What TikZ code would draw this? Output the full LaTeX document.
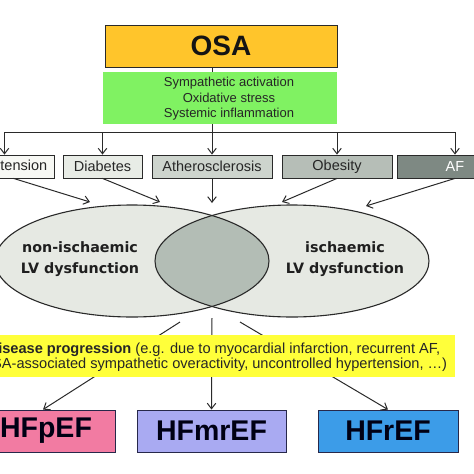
\documentclass[tikz,border=0pt]{standalone}
\usepackage{fontspec}
\setmainfont{Liberation Sans}
\newfontfamily\dejavu{DejaVu Sans}
\usetikzlibrary{arrows.meta}

\definecolor{osaorange}{HTML}{FFC52B}
\definecolor{mechgreen}{HTML}{80F262}
\definecolor{rowA}{HTML}{F7F8F4}
\definecolor{rowB}{HTML}{E8ECE6}
\definecolor{rowC}{HTML}{CDD4CD}
\definecolor{rowD}{HTML}{B6BEB7}
\definecolor{rowE}{HTML}{7E8983}
\definecolor{ellLight}{HTML}{E6E9E3}
\definecolor{ellDark}{HTML}{B3BDB5}
\definecolor{progYellow}{HTML}{FFFF3A}
\definecolor{hfpink}{HTML}{F27BA2}
\definecolor{hflav}{HTML}{A9AAF2}
\definecolor{hfblue}{HTML}{3C9CE8}
\definecolor{linecol}{HTML}{2A2A2A}
\definecolor{hfborder}{HTML}{27284A}

\begin{document}
\begin{tikzpicture}[x=1pt,y=-1pt,
  >={Straight Barb[length=5.5pt,width=8.5pt]},
  conn/.style={draw=linecol, line width=1pt},
  rowbox/.style={draw=linecol, line width=0.8pt, inner sep=0pt, minimum height=23pt,
                 font=\fontsize{14.5}{17}\selectfont, text=black!85},
  hfbox/.style={draw=hfborder, line width=0.9pt, inner sep=0pt, minimum height=42pt,
                font=\fontsize{28.5}{30}\selectfont\bfseries, text=black!92!blue},
  elltext/.style={align=center, inner sep=0pt, font=\dejavu\bfseries\fontsize{14.3}{21.5}\selectfont, text=black!88},
  ellline/.style={draw=linecol, line width=1.1pt},
]
\useasboundingbox (0,0) rectangle (474,474);
\begin{scope}
\clip (0,0) rectangle (474,474);

% OSA and mechanisms
\node[draw=linecol, line width=1pt, fill=osaorange, inner sep=0pt,
      minimum width=232pt, minimum height=42pt,
      font=\fontsize{28}{30}\selectfont\bfseries, text=black!92] (osa) at (221,46) {OSA};
\node[fill=mechgreen, inner sep=0pt, minimum width=234pt, minimum height=52pt] (mech) at (220,98) {};
\node[align=center, inner sep=0pt, font=\fontsize{13}{15.5}\selectfont, text=black!85] (mechtext) at (229,99)
  {Sympathetic activation\\Oxidative stress\\Systemic inflammation};

\coordinate (spine) at (212,132);

% comorbidity row
\node[rowbox, fill=rowA, minimum width=99pt]  (hyp) at (4.5,166.5) {Hypertension};
\node[rowbox, fill=rowB, minimum width=79pt]  (dia) at (102.5,166.5) {Diabetes};
\node[rowbox, fill=rowC, minimum width=120pt] (ath) at (212,166.5) {Atherosclerosis};
\node[rowbox, fill=rowD, minimum width=110pt] (obe) at (337,166.5) {Obesity};
\node[rowbox, fill=rowE, minimum width=116pt, text=white] (af) at (455,166.5) {AF};

\draw[conn] (osa.south -| spine) -- (mech.north -| spine);
\draw[conn] (mech.south -| spine) -- (spine);
\draw[conn] (hyp.north |- spine) -- (af.north |- spine);
\foreach \b in {hyp,dia,ath,obe,af}
  \draw[conn,->] (\b.north |- spine) -- (\b.north);

% ellipses
\fill[ellLight] (132,261) ellipse [x radius=137, y radius=56];
\fill[ellLight] (292,261) ellipse [x radius=137, y radius=56];
\begin{scope}
  \clip (132,261) ellipse [x radius=137, y radius=56];
  \fill[ellDark] (292,261) ellipse [x radius=137, y radius=56];
\end{scope}
\draw[ellline] (132,261) ellipse [x radius=137, y radius=56];
\draw[ellline] (292,261) ellipse [x radius=137, y radius=56];

\node[elltext] (nonisch) at (80,259) {non-ischaemic\\LV dysfunction};
\node[elltext] (isch) at (345,259) {ischaemic\\LV dysfunction};

% arrows into ellipses
\coordinate (tHyp) at (90,202);
\coordinate (tDia) at (160,202);
\coordinate (tAth) at (212,203);
\coordinate (tObe) at (282,202);
\coordinate (tAF)  at (366,206);
\draw[conn,->] ([xshift=9pt]hyp.south) -- (tHyp);
\draw[conn,->] (dia.south) -- (tDia);
\draw[conn,->] (ath.south) -- (tAth);
\draw[conn,->] (obe.south) -- (tObe);
\draw[conn,->] (af.south) -- (tAF);

% heart failure phenotypes
\node[hfbox, fill=hfpink, minimum width=144pt] (hfp)  at (43,431)    {};
\node[inner sep=0pt, font=\fontsize{28.5}{30}\selectfont\bfseries, text=black!92!blue] (hfptext) at (46,431) {HFpEF};
\node[hfbox, fill=hflav,  minimum width=149pt] (hfmr) at (211.5,431) {HFmrEF};
\node[hfbox, fill=hfblue, minimum width=140pt] (hfr)  at (388,431)   {HFrEF};

\coordinate (sL) at (180,322);
\coordinate (sM) at (212,318);
\coordinate (sR) at (240,322);
\draw[conn,->] (sL) -- (hfp.north);
\draw[conn,->] (sM) -- (hfmr.north);
\draw[conn,->] (sR) -- (hfr.north);

% disease progression
\node[fill=progYellow, inner sep=0pt, minimum width=482pt, minimum height=42pt] (prog) at (214,356) {};
\node[align=center, inner sep=0pt, font=\fontsize{14.6}{15.5}\selectfont, text=black!85] (progtext) at (214,357)
  {\textbf{Disease progression} (e.g. due to myocardial infarction, recurrent AF,\\
   OSA-associated sympathetic overactivity, uncontrolled hypertension, …)};
\end{scope}
\end{tikzpicture}
\end{document}
